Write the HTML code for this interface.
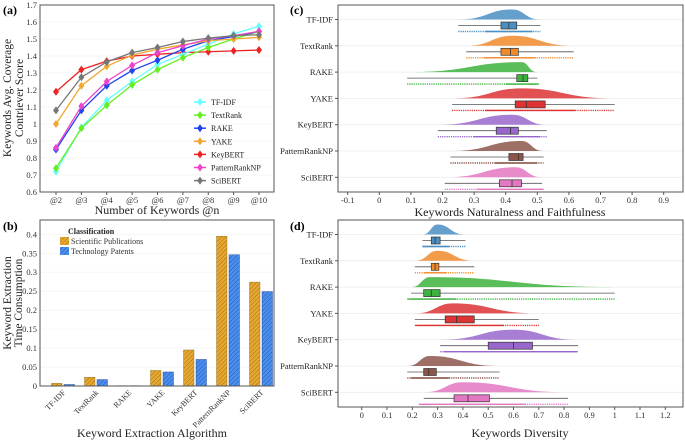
<!DOCTYPE html>
<html><head><meta charset="utf-8"><style>
html,body{margin:0;padding:0;background:#fff}
svg{display:block;font-family:"Liberation Serif",serif}
</style></head><body>
<svg id="s" width="685" height="441" viewBox="0 0 685 441">
<text x="3" y="14" font-size="12" font-weight="bold">(a)</text>
<text x="3" y="230" font-size="12" font-weight="bold">(b)</text>
<text x="290" y="14" font-size="12" font-weight="bold">(c)</text>
<text x="290" y="230" font-size="12" font-weight="bold">(d)</text>
<defs>
<pattern id="hatchO" width="3" height="3" patternUnits="userSpaceOnUse" patternTransform="rotate(45)"><rect width="3" height="3" fill="#e8a830"/><line x1="0" y1="0" x2="0" y2="3" stroke="#7a5a10" stroke-width="0.7"/></pattern>
<pattern id="hatchB" width="3" height="3" patternUnits="userSpaceOnUse" patternTransform="rotate(45)"><rect width="3" height="3" fill="#4a90f0"/><line x1="0" y1="0" x2="0" y2="3" stroke="#1a3a8a" stroke-width="0.7"/></pattern>
</defs>
<g id="ga"></g><g id="gb"></g><g id="gc"></g><g id="gd"></g>
</svg>
<script>
// ---------- Panel A data ----------
const aCats = ["@2","@3","@4","@5","@6","@7","@8","@9","@10"];
const aNames = ["TF-IDF","TextRank","RAKE","YAKE","KeyBERT","PatternRankNP","SciBERT"];
const aTFIDF = [0.72,0.98,1.14,1.25,1.35,1.41,1.47,1.53,1.575];
const aTextRank = [0.74,0.975,1.11,1.23,1.32,1.39,1.45,1.50,1.545];
const aRAKE = [0.85,1.08,1.225,1.315,1.375,1.44,1.49,1.515,1.545];
const aYAKE = [1.0,1.225,1.34,1.405,1.44,1.465,1.49,1.50,1.51];
const aKeyBERT = [1.19,1.32,1.37,1.40,1.41,1.42,1.425,1.43,1.435];
const aPRNP = [0.86,1.105,1.25,1.345,1.42,1.46,1.50,1.52,1.545];
const aSciBERT = [1.08,1.275,1.365,1.42,1.45,1.485,1.505,1.52,1.525];
const aTicks = [0.6,0.7,0.8,0.9,1,1.1,1.2,1.3,1.4,1.5,1.6,1.7];
// ---------- Panel B data ----------
const bCats = ["TF-IDF","TextRank","RAKE","YAKE","KeyBERT","PatternRankNP","SciBERT"];
const bSci = [0.007,0.023,0.001,0.041,0.095,0.395,0.274];
const bPat = [0.004,0.017,0.001,0.037,0.070,0.346,0.249];
const bTicks = [0,0.05,0.1,0.15,0.2,0.25,0.3,0.35,0.4];
// ---------- Panel C data (min,q1,median,q3,max,mode) ----------
const cCats = ["TF-IDF","TextRank","RAKE","YAKE","KeyBERT","PatternRankNP","SciBERT"];
const cMin = [0.25,0.275,0.088,0.23,0.185,0.225,0.207];
const cQ1 = [0.385,0.385,0.435,0.43,0.37,0.41,0.38];
const cMed = [0.41,0.415,0.455,0.465,0.415,0.44,0.42];
const cQ3 = [0.435,0.44,0.47,0.525,0.44,0.455,0.45];
const cMax = [0.51,0.615,0.50,0.745,0.53,0.52,0.515];
const cMode = [0.42,0.42,0.45,0.45,0.42,0.45,0.43];
const cTicks = [-0.1,0,0.1,0.2,0.3,0.4,0.5,0.6,0.7,0.8,0.9];
// ---------- Panel D data ----------
const dMin = [0.24,0.21,0.195,0.21,0.31,0.18,0.245];
const dQ1 = [0.275,0.275,0.245,0.33,0.50,0.245,0.365];
const dMed = [0.29,0.29,0.275,0.375,0.60,0.265,0.42];
const dQ3 = [0.31,0.305,0.31,0.445,0.675,0.295,0.505];
const dMax = [0.41,0.445,1.0,0.70,0.855,0.545,0.815];
const dMode = [0.30,0.30,0.27,0.36,0.60,0.27,0.40];
const dTicks = [0,0.1,0.2,0.3,0.4,0.5,0.6,0.7,0.8,0.9,1,1.1,1.2];

const NS="http://www.w3.org/2000/svg";
function mk(parent,tag,attrs,txt){const e=document.createElementNS(NS,tag);for(const k in attrs)e.setAttribute(k,attrs[k]);if(txt!==undefined)e.textContent=txt;parent.appendChild(e);return e;}
const fmt=v=>String(+v.toFixed(2));

// ===== Panel A =====
(function(){
const g=document.getElementById('ga');
const L=40,R=274,T=5,B=192;
const y=v=>B-(v-0.6)/1.1*(B-T);
const x=i=>56+i*(259-56)/(aCats.length-1);
aTicks.forEach(t=>{const yy=y(t);
 const ln=mk(g,'line',{x1:L,x2:R,y1:yy,y2:yy,stroke:'#eee','stroke-width':0.6});
 
 const tx=mk(g,'text',{x:L-3,y:yy+3,'font-size':8.5,'text-anchor':'end',fill:'#333'},fmt(t));
 });
aCats.forEach((c,i)=>{const tx=mk(g,'text',{x:x(i),y:B+11,'font-size':8.5,'text-anchor':'middle',fill:'#333'},c);
 
 mk(g,'line',{x1:x(i),x2:x(i),y1:B,y2:B+3,stroke:'#555'});});
const fr=mk(g,'rect',{x:L,y:T,width:R-L,height:B-T,fill:'none',stroke:'#555','stroke-width':1});

const series=[aTFIDF,aTextRank,aRAKE,aYAKE,aKeyBERT,aPRNP,aSciBERT];
const cols=['#66ffff','#66ee22','#2244ee','#f0a830','#ee2222','#ee44cc','#777777'];
const order=[4,0,1,2,3,5,6];
order.forEach(si=>{const s=series[si];
 const p=mk(g,'polyline',{points:s.map((v,i)=>x(i)+','+y(v)).join(' '),fill:'none',stroke:cols[si],'stroke-width':1.3});
 
 s.forEach((v,i)=>{const c=mk(g,'path',{d:`M${x(i)},${y(v)-4}L${x(i)+3},${y(v)}L${x(i)},${y(v)+4}L${x(i)-3},${y(v)}Z`,fill:cols[si]});
  });});
aNames.forEach((n,i)=>{const yy=102+i*13.1;
 const e=mk(g,'g',{});
 mk(e,'line',{x1:194,x2:206,y1:yy,y2:yy,stroke:cols[i],'stroke-width':1.5});
 mk(e,'path',{d:`M200,${yy-4}L203,${yy}L200,${yy+4}L197,${yy}Z`,fill:cols[i]});
 mk(e,'text',{x:211,y:yy+3,'font-size':8,fill:'#222'},n);});
const xt=mk(g,'text',{x:157,y:214,'font-size':12,'text-anchor':'middle',fill:'#222'},'Number of Keywords @n');

const yt=mk(g,'text',{transform:'translate(0,98) rotate(-90)','font-size':11.5,'text-anchor':'middle',fill:'#222'});

mk(yt,'tspan',{x:0,y:11},'Keywords Avg. Coverage');mk(yt,'tspan',{x:0,y:23},'Contriever Score');
})();

// ===== Panel B =====
(function(){
const g=document.getElementById('gb');
const L=40,R=274,T=220,B=386;
const y=v=>B-v/0.4*(B-234.3);
const cx=i=>63+i*33;
bTicks.forEach(t=>{const yy=y(t);
 mk(g,'line',{x1:L,x2:R,y1:yy,y2:yy,stroke:'#f0f0f0','stroke-width':0.6});
 const tx=mk(g,'text',{x:L-3,y:yy+3,'font-size':8.5,'text-anchor':'end',fill:'#333'},fmt(t));
 });
bCats.forEach((c,i)=>{
 const b1=mk(g,'rect',{x:cx(i)-11.5,y:y(bSci[i]),width:10.5,height:B-y(bSci[i]),fill:'url(#hatchO)',stroke:'#8a6a20','stroke-width':0.4});
 
 const b2=mk(g,'rect',{x:cx(i)+1,y:y(bPat[i]),width:10.5,height:B-y(bPat[i]),fill:'url(#hatchB)',stroke:'#1a3a8a','stroke-width':0.4});
 
 const tx=mk(g,'text',{transform:`translate(${cx(i)+3},${B+7}) rotate(-45)`,'font-size':8,'text-anchor':'end',fill:'#333'},c);
 });
const fr=mk(g,'rect',{x:L,y:T,width:R-L,height:B-T,fill:'none',stroke:'#555','stroke-width':1});

const lg=mk(g,'g',{});
mk(lg,'text',{x:68,y:234,'font-size':8,'font-weight':'bold',fill:'#222'},'Classification');
mk(lg,'rect',{x:60,y:237,width:9,height:8,fill:'url(#hatchO)'});
mk(lg,'text',{x:71,y:244,'font-size':8,fill:'#333'},'Scientific Publications');
mk(lg,'rect',{x:60,y:247,width:9,height:8,fill:'url(#hatchB)'});
mk(lg,'text',{x:71,y:254,'font-size':8,fill:'#333'},'Technology Patents');
const xt=mk(g,'text',{x:152,y:437,'font-size':12,'text-anchor':'middle',fill:'#222'},'Keyword Extraction Algorithm');

const yt=mk(g,'text',{transform:'translate(0,303) rotate(-90)','font-size':11.5,'text-anchor':'middle',fill:'#222'});

mk(yt,'tspan',{x:0,y:11},'Keyword Extraction');mk(yt,'tspan',{x:0,y:22},'Time Consumption');
})();

// ===== Raincloud panels =====
const rcCols=['#4a8fc4','#f08a2a','#3cb33c','#dd3333','#9966cc','#8c564b','#e377c2'];
function rain(gid,pre,T,B,x0,per,ticks,mn,q1,md,q3,mx,mode){
 const g=document.getElementById(gid);
 const L=338,R=683;
 const x=v=>x0+v/0.1*per;
 cCats.forEach((c,i)=>{const yy=T+14.5+i*26.3;
  mk(g,'line',{x1:L,x2:R,y1:yy,y2:yy,stroke:'#eee','stroke-width':0.8});
  const tx=mk(g,'text',{x:L-5,y:yy+3,'font-size':8.5,'text-anchor':'end',fill:'#222'},c);
  
  mk(g,'line',{x1:L-3,x2:L,y1:yy,y2:yy,stroke:'#555'});
  const a=x(mn[i]),m=x(mode[i]),b=x(mx[i]),h=10;
  const d=`M${a},${yy} C${a+(m-a)*0.55},${yy} ${m-(m-a)*0.45},${yy-h} ${m},${yy-h} C${m+(b-m)*0.45},${yy-h} ${b-(b-m)*0.55},${yy} ${b},${yy} Z`;
  const v=mk(g,'path',{d:d,fill:rcCols[i],'fill-opacity':0.85});
  
  const by=yy+6;
  mk(g,'line',{x1:a,x2:b,y1:by,y2:by,stroke:'#555','stroke-width':0.8});
  const bx=mk(g,'rect',{x:x(q1[i]),y:by-3.5,width:x(q3[i])-x(q1[i]),height:7,fill:rcCols[i],stroke:'#333','stroke-width':0.7});
  
  mk(g,'line',{x1:x(md[i]),x2:x(md[i]),y1:by-3.5,y2:by+3.5,stroke:'#333','stroke-width':0.8});
  const dt=mk(g,'line',{x1:a,x2:b,y1:yy+12,y2:yy+12,stroke:rcCols[i],'stroke-width':1.4,'stroke-dasharray':'1.2 1'});
  
  mk(g,'line',{x1:x(q1[i])-(x(q3[i])-x(q1[i])),x2:x(q3[i])+(x(q3[i])-x(q1[i])),y1:yy+12,y2:yy+12,stroke:rcCols[i],'stroke-width':1.4});
 });
 ticks.forEach(t=>{const xx=x(t);
  mk(g,'line',{x1:xx,x2:xx,y1:B,y2:B+3,stroke:'#555'});
  const tx=mk(g,'text',{x:xx,y:B+11,'font-size':8.5,'text-anchor':'middle',fill:'#333'},fmt(t));
  });
 const fr=mk(g,'rect',{x:L,y:T,width:R-L,height:B-T,fill:'none',stroke:'#555','stroke-width':1});
 
 return g;
}
const gc=rain('gc','c',5,192,379.3,31.6,cTicks,cMin,cQ1,cMed,cQ3,cMax,cMode);
const ct=mk(gc,'text',{x:510,y:216,'font-size':12,'text-anchor':'middle',fill:'#222'},'Keywords Naturalness and Faithfulness');

const gd=rain('gd','d',220,407,361.7,25.3,dTicks,dMin,dQ1,dMed,dQ3,dMax,dMode);
const dt=mk(gd,'text',{x:520,y:437,'font-size':12,'text-anchor':'middle',fill:'#222'},'Keywords Diversity');

</script>
</body></html>
